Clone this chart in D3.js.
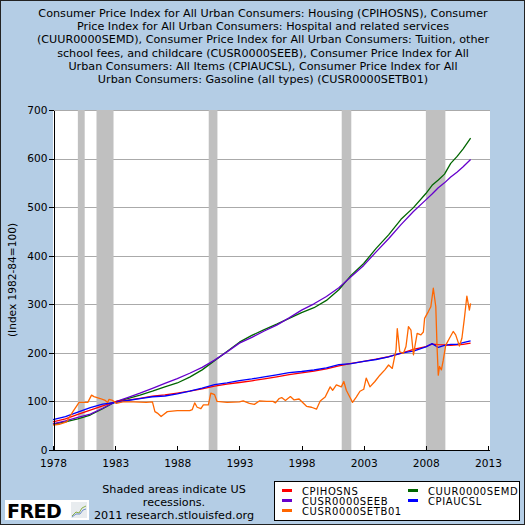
<!DOCTYPE html>
<html lang="en">
<head>
    <meta charset="UTF-8">
    <title>FRED CPI chart</title>
    <script src="https://d3js.org/d3.v7.min.js"></script>
    <style>
        body {
            margin: 0;
            padding: 0;
            background: #fff;
        }
        svg text {
            font-family: "DejaVu Sans", Verdana, sans-serif;
            fill: #000;
        }
        .grid line {
            stroke: #aaa;
            stroke-width: 1px;
            shape-rendering: crispEdges;
        }
        .axis path, .axis line {
            stroke: #000;
            shape-rendering: crispEdges;
        }
        .series {
            fill: none;
            stroke-width: 1.3px;
            stroke-linejoin: round;
        }
    </style>
</head>
<body>
    <div id="chart"></div>
    <script>
        const titleLines = [
            "Consumer Price Index for All Urban Consumers: Housing (CPIHOSNS), Consumer",
            "Price Index for All Urban Consumers: Hospital and related services",
            "(CUUR0000SEMD), Consumer Price Index for All Urban Consumers: Tuition, other",
            "school fees, and childcare (CUSR0000SEEB), Consumer Price Index for All",
            "Urban Consumers: All Items (CPIAUCSL), Consumer Price Index for All",
            "Urban Consumers: Gasoline (all types) (CUSR0000SETB01)"
        ];

        const xTicks = [1978, 1983, 1988, 1993, 1998, 2003, 2008, 2013];
        const yTicks = [0, 100, 200, 300, 400, 500, 600, 700];

        const recessions = [[1980.0, 1980.55], [1981.5, 1982.87], [1990.53, 1991.23], [2001.23, 2002.0], [2008.0, 2009.57]];

        // dates shared by the four smoother series
        const years = [1978, 1979, 1980, 1981, 1982, 1983, 1984, 1985, 1986, 1987, 1988, 1989, 1990, 1991, 1992, 1993,
            1994, 1995, 1996, 1997, 1998, 1999, 2000, 2001, 2002, 2003, 2004, 2005, 2006, 2007, 2008,
            2008.5, 2009, 2009.5, 2010, 2010.5, 2011, 2011.6];

        const housing = [58, 64, 73.5, 82, 91, 99.5, 102.5, 106.5, 111, 113.5, 117, 121, 126, 131.5, 135.5, 139,
            142.5, 146.5, 150.5, 155, 159, 162.5, 167, 173, 178.5, 182.5, 187, 192, 199, 207, 213,
            218, 217, 216.5, 215.5, 216.5, 217.5, 220];

        const hospital = [53, 58, 64, 72, 85, 99, 106, 113, 121, 130, 138, 150, 165, 184, 203, 222,
            236, 248, 259, 271, 283, 293, 308, 330, 360, 384, 415, 443, 475, 499, 528,
            545, 556, 568, 590, 604, 620, 642];

        const tuition = [54, 60, 67, 74, 86, 99, 108, 117, 127, 137, 147, 158, 170, 185, 202, 220,
            232, 245, 257, 272, 288, 301, 316, 334, 357, 380, 408, 435, 464, 491, 515,
            527, 540, 550, 562, 572, 583, 598];

        const allItems = [62.7, 68.5, 78.0, 87.2, 94.3, 97.8, 101.9, 105.7, 109.6, 111.2, 115.7, 121.2, 127.5, 134.7, 138.3, 142.8,
            146.3, 150.5, 154.7, 159.4, 161.6, 164.7, 169.3, 175.6, 177.7, 182.6, 186.3, 191.6, 199.3, 203.4, 212.2,
            219.0, 211.1, 215.4, 217.5, 217.6, 221.2, 224.5];

        const gasYears = [1978.0, 1978.5, 1979.1, 1979.6, 1980.1, 1980.8, 1981.1, 1981.3, 1981.8, 1982.2, 1982.4, 1982.5, 1982.8,
            1983.1, 1983.6, 1984.5, 1985.5, 1986.0, 1986.2, 1986.4, 1986.7, 1986.9, 1987.2, 1988.0, 1989.0, 1989.2,
            1989.4, 1989.6, 1989.9, 1990.1, 1990.5, 1990.7, 1991.0, 1991.2, 1992.0, 1993.0, 1993.3, 1993.8, 1994.2,
            1994.6, 1995.2, 1995.7, 1995.9, 1996.2, 1996.4, 1996.7, 1997.1, 1997.4, 1997.8, 1998.4, 1998.8, 1999.2,
            1999.5, 1999.9, 2000.3, 2000.5, 2000.8, 2001.2, 2001.4, 2001.6, 2001.9, 2002.1, 2002.4, 2002.7, 2003.0,
            2003.2, 2003.5, 2003.9, 2004.3, 2004.7, 2005.0, 2005.3, 2005.6, 2005.7, 2005.9, 2006.2, 2006.4, 2006.6,
            2006.8, 2007.0, 2007.3, 2007.6, 2007.8, 2007.9, 2008.2, 2008.4, 2008.6, 2008.8, 2008.9, 2009.0, 2009.1,
            2009.25, 2009.4, 2009.6, 2009.9, 2010.2, 2010.4, 2010.7, 2010.9, 2011.1, 2011.3, 2011.5, 2011.6];

        const gasoline = [51, 53, 58, 79, 98, 98, 113, 110, 106, 102, 98, 104, 102,
            96, 99, 99, 98, 99, 79, 76, 69, 73, 79, 81, 81, 83,
            97, 88, 85, 93, 93, 117, 114, 100, 98, 99, 101, 96, 94,
            101, 100, 100, 97, 106, 108, 102, 110, 103, 105, 90, 88, 84,
            101, 109, 130, 123, 134, 130, 141, 123, 108, 98, 109, 121, 125,
            148, 130, 141, 154, 165, 175, 168, 206, 250, 202, 199, 213, 254,
            247, 196, 240, 237, 243, 271, 285, 295, 333, 295, 213, 154, 172,
            165, 185, 216, 230, 244, 237, 214, 230, 271, 317, 288, 302];

        const seriesNames = ["CPIHOSNS", "CUUR0000SEMD", "CUSR0000SEEB", "CPIAUCSL", "CUSR0000SETB01"];
        const seriesColors = ["#ff0000", "#006600", "#6600cc", "#0000ff", "#ff6600"];

        const width = 525, height = 525;
        const plot = { left: 53, right: 490, top: 110, bottom: 450 };

        const x = d3.scaleLinear().domain([1978, 2013]).range([plot.left, 488]);
        const y = d3.scaleLinear().domain([0, 700]).range([plot.bottom, plot.top]);

        const svg = d3.select("#chart").append("svg")
            .attr("width", width)
            .attr("height", height);

        svg.append("rect")
            .attr("x", 0.5).attr("y", 0.5)
            .attr("width", width - 1).attr("height", height - 1)
            .attr("fill", "#b4cde5")
            .attr("stroke", "#222");

        svg.append("g")
            .selectAll("text")
            .data(titleLines)
            .enter().append("text")
            .attr("x", 263)
            .attr("y", (d, i) => 17 + i * 13.2)
            .attr("text-anchor", "middle")
            .attr("font-size", "11.2px")
            .text(d => d);

        svg.append("rect")
            .attr("x", plot.left).attr("y", plot.top)
            .attr("width", plot.right - plot.left).attr("height", plot.bottom - plot.top)
            .attr("fill", "#fff");

        svg.append("g")
            .attr("class", "grid")
            .selectAll("line")
            .data(yTicks.filter(d => d > 0))
            .enter().append("line")
            .attr("x1", plot.left).attr("x2", plot.right)
            .attr("y1", d => Math.round(y(d)) + 0.5)
            .attr("y2", d => Math.round(y(d)) + 0.5);

        svg.append("g")
            .selectAll("rect")
            .data(recessions)
            .enter().append("rect")
            .attr("x", d => x(d[0]))
            .attr("width", d => x(d[1]) - x(d[0]))
            .attr("y", plot.top)
            .attr("height", plot.bottom - plot.top)
            .attr("fill", "#c0c0c0");

        const line = d3.line()
            .x(d => x(d[0]))
            .y(d => y(d[1]));

        const seriesData = [
            d3.zip(years, housing),
            d3.zip(years, hospital),
            d3.zip(years, tuition),
            d3.zip(years, allItems),
            d3.zip(gasYears, gasoline)
        ];
        // draw order: hospital, tuition, housing, all items, gasoline
        const drawOrder = [1, 2, 0, 3, 4];

        svg.append("g")
            .selectAll("path")
            .data(drawOrder)
            .enter().append("path")
            .attr("class", "series")
            .attr("stroke", i => seriesColors[i])
            .attr("d", i => line(seriesData[i]));

        svg.append("g")
            .attr("class", "axis")
            .attr("transform", `translate(${plot.left + 0.5},0)`)
            .call(d3.axisLeft(y).tickValues(yTicks).tickSizeInner(5).tickSizeOuter(0).tickPadding(1));

        const xAxis = svg.append("g")
            .attr("class", "axis")
            .attr("transform", `translate(0,${plot.bottom + 0.5})`)
            .call(d3.axisBottom(x).tickValues(xTicks).tickFormat(d3.format("d"))
                .tickSizeInner(-5).tickSizeOuter(0).tickPadding(9));

        xAxis.select(".domain").attr("d", `M${plot.left},0H${plot.right}`);

        svg.selectAll(".axis text")
            .attr("font-size", "10.6px")
            .attr("font-family", "DejaVu Sans, Verdana, sans-serif")
            .attr("fill", "#000");

        svg.append("text")
            .attr("transform", `translate(16,${(plot.top + plot.bottom) / 2}) rotate(-90)`)
            .attr("text-anchor", "middle")
            .attr("font-size", "10.6px")
            .text("(Index 1982-84=100)");

        // footer note
        const notes = ["Shaded areas indicate US", "recessions.", "2011 research.stlouisfed.org"];
        svg.append("g")
            .selectAll("text")
            .data(notes)
            .enter().append("text")
            .attr("x", 174)
            .attr("y", (d, i) => 493 + i * 13)
            .attr("text-anchor", "middle")
            .attr("font-size", "11.2px")
            .text(d => d);

        // FRED logo
        const logo = svg.append("g").attr("transform", "translate(5,500)");
        logo.append("rect")
            .attr("width", 84).attr("height", 20)
            .attr("fill", "#fff");
        logo.append("text")
            .attr("x", 2).attr("y", 18)
            .attr("font-size", "19px")
            .attr("font-weight", "bold")
            .attr("letter-spacing", "-0.5")
            .text("FRED");
        logo.append("rect")
            .attr("x", 66).attr("y", 2)
            .attr("width", 16).attr("height", 16)
            .attr("fill", "#e8ecef");
        logo.append("path")
            .attr("d", "M67,16L71,12L74,13L77,8L81,6")
            .attr("fill", "none").attr("stroke", "#8ab04a").attr("stroke-width", 1);
        logo.append("path")
            .attr("d", "M67,17L71,14L75,14L78,10L81,9")
            .attr("fill", "none").attr("stroke", "#6d8fc7").attr("stroke-width", 1);

        // legend
        const legend = svg.append("g").attr("transform", "translate(274.5,481.5)");
        legend.append("rect")
            .attr("width", 245).attr("height", 39)
            .attr("fill", "#fff")
            .attr("stroke", "#000");

        const legendPos = [[0, 0], [1, 0], [0, 1], [1, 1], [0, 2]];
        const item = legend.selectAll("g.item")
            .data(seriesNames)
            .enter().append("g")
            .attr("class", "item")
            .attr("transform", (d, i) => `translate(${7.5 + legendPos[i][0] * 126},${9 + legendPos[i][1] * 10})`);

        item.append("line")
            .attr("x1", 0).attr("x2", 10)
            .attr("stroke", (d, i) => seriesColors[i])
            .attr("stroke-width", 3);

        item.append("text")
            .attr("x", 20)
            .attr("y", 4)
            .attr("font-size", "10px")
            .attr("letter-spacing", "0.6")
            .text(d => d);
    </script>
</body>
</html>
